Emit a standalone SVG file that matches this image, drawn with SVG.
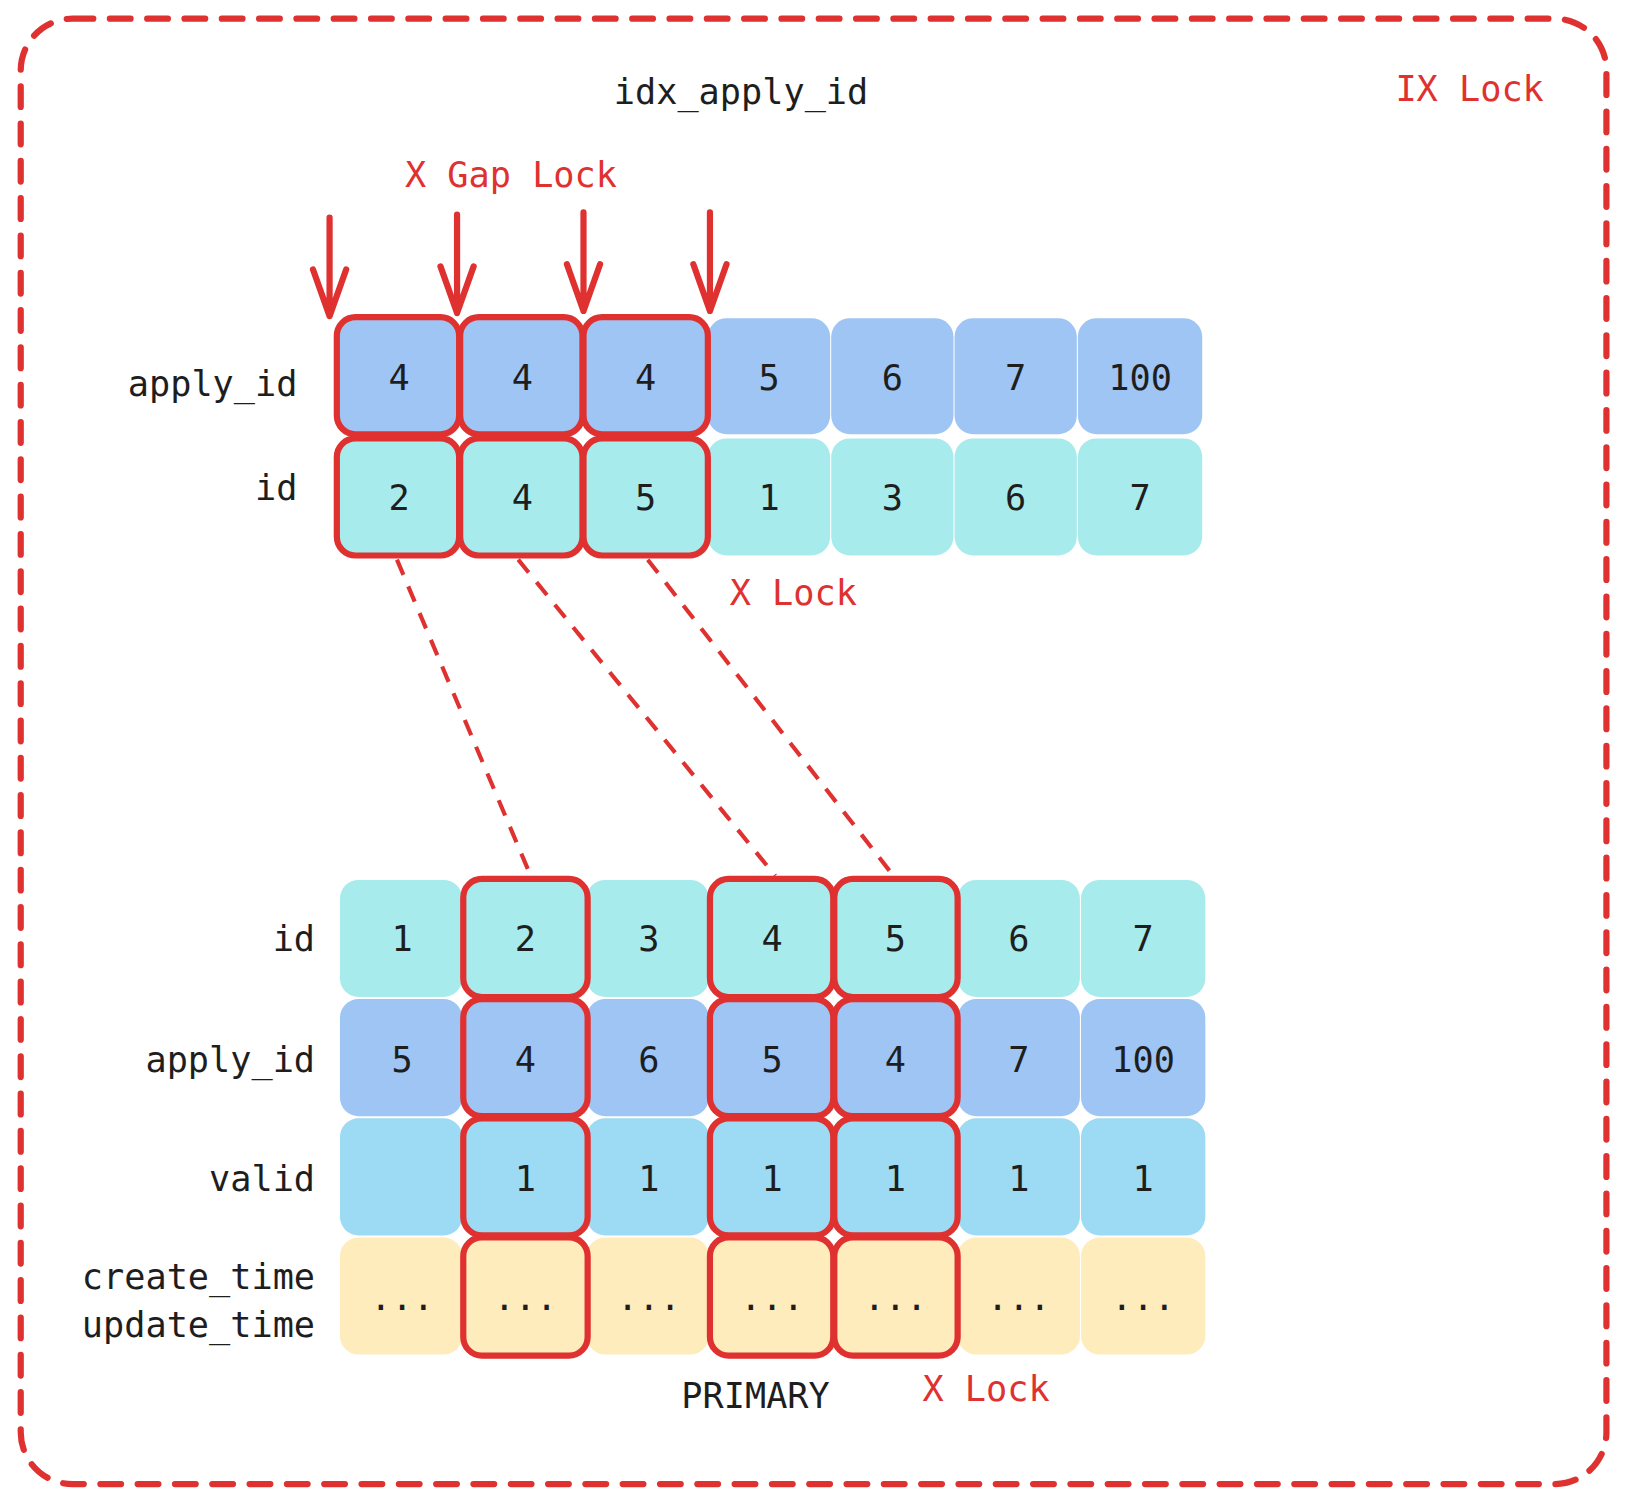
<svg xmlns="http://www.w3.org/2000/svg" width="1625" height="1504" viewBox="0 0 1625 1504">
<style>
text{font-family:"DejaVu Sans Mono","Liberation Mono",monospace;font-size:34px;fill:#1e1e1e}
.v{text-anchor:middle}
.l{text-anchor:end}
.r{fill:#e03131}
.a{fill:#9ec5f4}.c{fill:#a8ebed}.d{fill:#9ddaf3}.y{fill:#feecbd}
.lk{fill:none;stroke:#e03131;stroke-width:6}
.dash{fill:none;stroke:#e03131;stroke-width:4;stroke-dasharray:16 12}
.arr{fill:none;stroke:#e03131;stroke-width:6;stroke-linecap:round;stroke-linejoin:round}
</style>
<rect width="1625" height="1504" fill="#fff"/>
<g transform="scale(1.0364)">
<rect x="20" y="18" width="1530" height="1414" rx="50" fill="none" stroke="#e03131" stroke-width="6" stroke-dasharray="20 16" stroke-linecap="round"/>
<text x="715" y="100" class="v">idx_apply_id</text>
<text x="1418" y="97" class="v r">IX Lock</text>
<text x="493" y="180" class="v r">X Gap Lock</text>
<g id="arrows">
<path class="arr" d="M318 210V305M302 260L318 305L334 260"/>
<path class="arr" d="M441 207V302M425 257L441 302L457 257"/>
<path class="arr" d="M563 205V300M547 255L563 300L579 255"/>
<path class="arr" d="M685 205V300M669 255L685 300L701 255"/>
</g>
<g id="idx">
<text x="287" y="382" class="l">apply_id</text>
<text x="287" y="482" class="l">id</text>
<g class="a"><rect x="325" y="307" width="118" height="112" rx="18"/><rect x="444" y="307" width="118" height="112" rx="18"/><rect x="563" y="307" width="118" height="112" rx="18"/><rect x="683" y="307" width="118" height="112" rx="18"/><rect x="802" y="307" width="118" height="112" rx="18"/><rect x="921" y="307" width="118" height="112" rx="18"/><rect x="1040" y="307" width="120" height="112" rx="18"/></g>
<g class="c"><rect x="325" y="423" width="118" height="113" rx="18"/><rect x="444" y="423" width="118" height="113" rx="18"/><rect x="563" y="423" width="118" height="113" rx="18"/><rect x="683" y="423" width="118" height="113" rx="18"/><rect x="802" y="423" width="118" height="113" rx="18"/><rect x="921" y="423" width="118" height="113" rx="18"/><rect x="1040" y="423" width="120" height="113" rx="18"/></g>
<g class="v"><text x="385" y="376">4</text><text x="504" y="376">4</text><text x="623" y="376">4</text><text x="742" y="376">5</text><text x="861" y="376">6</text><text x="980" y="376">7</text><text x="1100" y="376">100</text>
<text x="385" y="492">2</text><text x="504" y="492">4</text><text x="623" y="492">5</text><text x="742" y="492">1</text><text x="861" y="492">3</text><text x="980" y="492">6</text><text x="1100" y="492">7</text></g>
<g class="lk"><rect x="325" y="306" width="118" height="113" rx="18"/><rect x="444" y="306" width="118" height="113" rx="18"/><rect x="563" y="306" width="120" height="113" rx="18"/><rect x="325" y="423" width="118" height="113" rx="18"/><rect x="444" y="423" width="118" height="113" rx="18"/><rect x="563" y="423" width="120" height="113" rx="18"/></g>
<text x="704" y="584" class="r">X Lock</text>
</g>
<g id="connectors">
<path class="dash" d="M383 540L512 845M500 540L748 845M625 540L862 845"/>
</g>
<g id="primary">
<text x="304" y="918" class="l">id</text>
<text x="304" y="1034" class="l">apply_id</text>
<text x="304" y="1149" class="l">valid</text>
<text x="304" y="1244" class="l">create_time</text>
<text x="304" y="1290" class="l">update_time</text>
<g class="c"><rect x="328" y="849" width="118" height="113" rx="18"/><rect x="447" y="849" width="118" height="113" rx="18"/><rect x="566" y="849" width="118" height="113" rx="18"/><rect x="685" y="849" width="118" height="113" rx="18"/><rect x="805" y="849" width="118" height="113" rx="18"/><rect x="924" y="849" width="118" height="113" rx="18"/><rect x="1043" y="849" width="120" height="113" rx="18"/></g>
<g class="a"><rect x="328" y="964" width="118" height="113" rx="18"/><rect x="447" y="964" width="118" height="113" rx="18"/><rect x="566" y="964" width="118" height="113" rx="18"/><rect x="685" y="964" width="118" height="113" rx="18"/><rect x="805" y="964" width="118" height="113" rx="18"/><rect x="924" y="964" width="118" height="113" rx="18"/><rect x="1043" y="964" width="120" height="113" rx="18"/></g>
<g class="d"><rect x="328" y="1079" width="118" height="113" rx="18"/><rect x="447" y="1079" width="118" height="113" rx="18"/><rect x="566" y="1079" width="118" height="113" rx="18"/><rect x="685" y="1079" width="118" height="113" rx="18"/><rect x="805" y="1079" width="118" height="113" rx="18"/><rect x="924" y="1079" width="118" height="113" rx="18"/><rect x="1043" y="1079" width="120" height="113" rx="18"/></g>
<g class="y"><rect x="328" y="1194" width="118" height="113" rx="18"/><rect x="447" y="1194" width="118" height="113" rx="18"/><rect x="566" y="1194" width="118" height="113" rx="18"/><rect x="685" y="1194" width="118" height="113" rx="18"/><rect x="805" y="1194" width="118" height="113" rx="18"/><rect x="924" y="1194" width="118" height="113" rx="18"/><rect x="1043" y="1194" width="120" height="113" rx="18"/></g>
<g class="v">
<text x="388" y="918">1</text><text x="507" y="918">2</text><text x="626" y="918">3</text><text x="745" y="918">4</text><text x="864" y="918">5</text><text x="983" y="918">6</text><text x="1103" y="918">7</text>
<text x="388" y="1034">5</text><text x="507" y="1034">4</text><text x="626" y="1034">6</text><text x="745" y="1034">5</text><text x="864" y="1034">4</text><text x="983" y="1034">7</text><text x="1103" y="1034">100</text>
<text x="507" y="1149">1</text><text x="626" y="1149">1</text><text x="745" y="1149">1</text><text x="864" y="1149">1</text><text x="983" y="1149">1</text><text x="1103" y="1149">1</text>
<text x="388" y="1264">...</text><text x="507" y="1264">...</text><text x="626" y="1264">...</text><text x="745" y="1264">...</text><text x="864" y="1264">...</text><text x="983" y="1264">...</text><text x="1103" y="1264">...</text>
</g>
<g class="lk">
<rect x="447" y="848" width="120" height="114" rx="18"/><rect x="447" y="964" width="120" height="113" rx="18"/><rect x="447" y="1079" width="120" height="113" rx="18"/><rect x="447" y="1194" width="120" height="114" rx="18"/>
<rect x="685" y="848" width="119" height="114" rx="18"/><rect x="685" y="964" width="119" height="113" rx="18"/><rect x="685" y="1079" width="119" height="113" rx="18"/><rect x="685" y="1194" width="119" height="114" rx="18"/>
<rect x="805" y="848" width="119" height="114" rx="18"/><rect x="805" y="964" width="119" height="113" rx="18"/><rect x="805" y="1079" width="119" height="113" rx="18"/><rect x="805" y="1194" width="119" height="114" rx="18"/>
</g>
<text x="729" y="1359" class="v">PRIMARY</text>
<text x="890" y="1352" class="r">X Lock</text>
</g>
</g>
</svg>
